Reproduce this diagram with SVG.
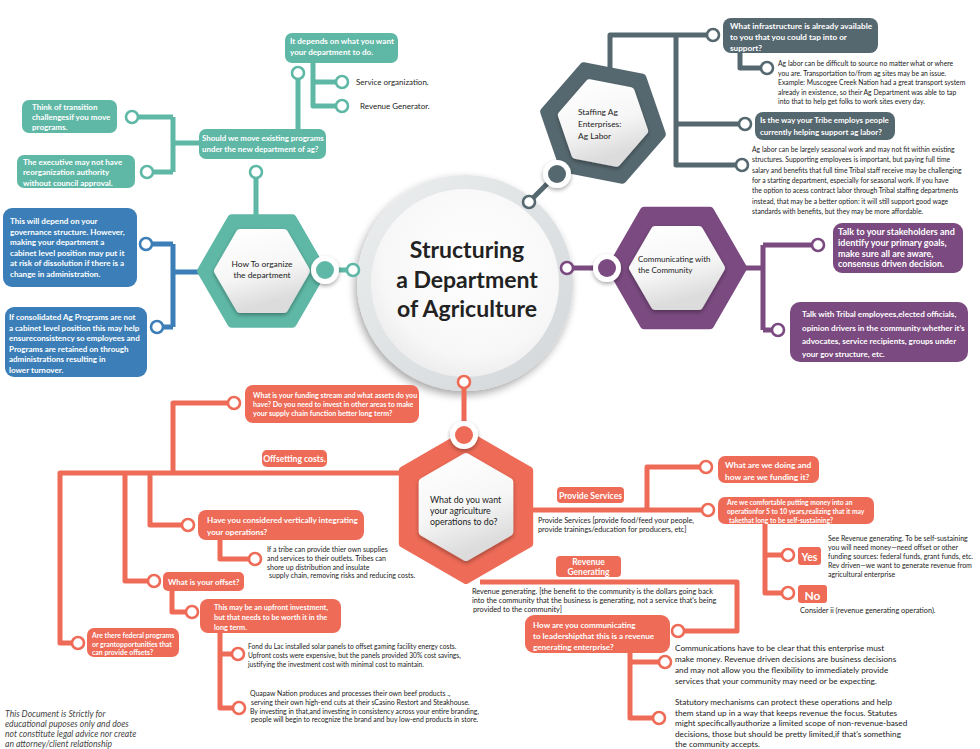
<svg xmlns="http://www.w3.org/2000/svg" width="980" height="749" viewBox="0 0 980 749">
<defs>
<style>
text{font-family:Lato,"Liberation Sans",sans-serif}
.w{fill:#fff;font-weight:700}
.d{fill:#222}
.ln{fill:none;stroke-width:5;stroke-linejoin:round;stroke-linecap:butt}
.teal{stroke:#5fb8a6}.blue{stroke:#3c7fb8}.grey{stroke:#56686f}.purp{stroke:#7a4a80}.oran{stroke:#ee6b57}
.oc{fill:#fff;stroke-width:2.6}
.fteal{fill:#5fb8a6}.fblue{fill:#3c7fb8}.fgrey{fill:#56686f}.fpurp{fill:#7a4a80}.foran{fill:#ee6b57}
.hexo{stroke-width:8;stroke-linejoin:round}
.hexi{fill:url(#hexg);stroke:url(#hexg);stroke-width:8;stroke-linejoin:round}
</style>
<linearGradient id="hexg" x1="0" y1="0" x2="0.3" y2="1">
<stop offset="0" stop-color="#ffffff"/><stop offset="0.6" stop-color="#f6f6f6"/><stop offset="1" stop-color="#dcdcdc"/>
</linearGradient>
<radialGradient id="face" cx="0.55" cy="0.4" r="0.7">
<stop offset="0" stop-color="#ffffff"/><stop offset="0.7" stop-color="#f7f7f7"/><stop offset="1" stop-color="#e6e6e6"/>
</radialGradient>
<linearGradient id="ring" x1="0" y1="0" x2="1" y2="1">
<stop offset="0" stop-color="#eceeef"/><stop offset="1" stop-color="#d3d7d9"/>
</linearGradient>
<filter id="sh" x="-30%" y="-30%" width="160%" height="160%">
<feGaussianBlur in="SourceAlpha" stdDeviation="4"/><feOffset dx="-2" dy="4"/>
<feComponentTransfer><feFuncA type="linear" slope="0.35"/></feComponentTransfer>
<feMerge><feMergeNode/><feMergeNode in="SourceGraphic"/></feMerge>
</filter>
<filter id="sh2" x="-50%" y="-50%" width="200%" height="200%">
<feGaussianBlur in="SourceAlpha" stdDeviation="2"/><feOffset dx="0" dy="2"/>
<feComponentTransfer><feFuncA type="linear" slope="0.35"/></feComponentTransfer>
<feMerge><feMergeNode/><feMergeNode in="SourceGraphic"/></feMerge>
</filter>
</defs>
<rect width="980" height="749" fill="#fff"/>

<!-- central title -->
<g id="title">
<circle cx="465" cy="283" r="108" fill="url(#ring)" filter="url(#sh)"/>
<circle cx="465" cy="283" r="94" fill="url(#face)"/>
<text x="467" y="258" text-anchor="middle" font-size="23" font-weight="700" class="d">Structuring</text>
<text x="467" y="288" text-anchor="middle" font-size="23" font-weight="700" class="d">a Department</text>
<text x="467" y="317" text-anchor="middle" font-size="23" font-weight="700" class="d">of Agriculture</text>
</g>

<!-- connectors -->
<g id="connectors">
<path class="ln teal" d="M325,270 H353 M256,218 V172 M298,129 V73 M313,63 V106 H342 M313,82 H342 M199,143 H173 M173,117 V172 M173,117 H132 M173,172 H147"/>
<path class="ln blue" d="M199,272 H173 M173,244 V327 M173,244 H146 M173,327 H157"/>
<path class="ln grey" d="M557,174 L529,202 M610,72 V35 H713 M676,35 V165 H742 M676,124 H745 M740,53 V68 H767"/>
<path class="ln purp" d="M607,268 H567 M745,268 H763 M763,245 V330 M763,245 H818 M763,330 H778"/>
<path class="ln oran" d="M464,382 V435 M405,473 H60 V643 H78 M173,473 V403 H234 M150,473 V525 H188 M125,473 V581 H154 M220,540 V559 H255 M172,591 V612 H192 M220,633 V708 H239 M220,654 H238 M525,510 H708 M647,510 V467 H706 M765,524 V593 H788 M765,555 H788 M480,582 H737 V631 H678 M630,653 V718 H659 M630,662 H665"/>
<g class="oc">
<circle cx="353" cy="270" r="6" class="teal"/><circle cx="256" cy="172" r="6" class="teal"/><circle cx="298" cy="73" r="6" class="teal"/><circle cx="342" cy="82" r="6" class="teal"/><circle cx="342" cy="106" r="6" class="teal"/><circle cx="132" cy="117" r="6" class="teal"/><circle cx="147" cy="172" r="6" class="teal"/>
<circle cx="146" cy="244" r="6" class="blue"/><circle cx="157" cy="327" r="6" class="blue"/>
<circle cx="529" cy="202" r="6" class="grey"/><circle cx="713" cy="35" r="6" class="grey"/><circle cx="745" cy="124" r="6" class="grey"/><circle cx="742" cy="165" r="6" class="grey"/><circle cx="767" cy="68" r="6" class="grey"/>
<circle cx="567" cy="268" r="6" class="purp"/><circle cx="818" cy="245" r="6" class="purp"/><circle cx="778" cy="330" r="6" class="purp"/>
<circle cx="464" cy="382" r="6" class="oran"/><circle cx="234" cy="403" r="6" class="oran"/><circle cx="188" cy="525" r="6" class="oran"/><circle cx="154" cy="581" r="6" class="oran"/><circle cx="78" cy="643" r="6" class="oran"/><circle cx="255" cy="559" r="6" class="oran"/><circle cx="192" cy="612" r="6" class="oran"/><circle cx="238" cy="654" r="6" class="oran"/><circle cx="239" cy="708" r="6" class="oran"/><circle cx="708" cy="510" r="6" class="oran"/><circle cx="706" cy="467" r="6" class="oran"/><circle cx="788" cy="555" r="6" class="oran"/><circle cx="788" cy="593" r="6" class="oran"/><circle cx="678" cy="631" r="6" class="oran"/><circle cx="665" cy="662" r="6" class="oran"/><circle cx="659" cy="718" r="6" class="oran"/>
</g>
</g>

<!-- TEAL: How To organize -->
<g id="hex-organize">
<polygon class="hexo fteal teal" points="323,271 292.5,218.2 231.5,218.2 201,271 231.5,323.8 292.5,323.8"/>
<polygon class="hexi" points="306,271 284,232.9 240,232.9 218,271 240,309.1 284,309.1" filter="url(#sh2)"/>
<circle cx="325" cy="270" r="14" fill="#fff" filter="url(#sh2)"/><circle cx="325" cy="270" r="9" class="fteal"/>
<text x="262" y="267" text-anchor="middle" font-size="8.4" class="d">How To organize</text>
<text x="262" y="278" text-anchor="middle" font-size="8.4" class="d">the department</text>
</g>
<g id="box-should">
<rect x="199" y="129" width="127" height="30" rx="7" class="fteal"/>
<text x="202" y="141" font-size="7.9" class="w">Should we move existing programs</text>
<text x="202" y="152" font-size="7.9" class="w">under the new department of ag?</text>
</g>
<g id="box-depends">
<rect x="285" y="33" width="113" height="30" rx="7" class="fteal"/>
<text x="290" y="44" font-size="8.1" class="w">It depends on what you want</text>
<text x="290" y="55" font-size="8.1" class="w">your department to do.</text>
</g>
<g id="txt-service"><text x="356" y="85" font-size="8" class="d">Service organization.</text></g>
<g id="txt-revgen"><text x="360" y="109" font-size="8" class="d">Revenue Generator.</text></g>
<g id="box-transition">
<rect x="22" y="100" width="95" height="33" rx="7" class="fteal"/>
<text font-size="8" class="w"><tspan x="32" y="110">Think of transition</tspan><tspan x="32" y="120">challengesif you move</tspan><tspan x="32" y="130">programs.</tspan></text>
</g>
<g id="box-executive">
<rect x="17" y="155" width="118" height="33" rx="7" class="fteal"/>
<text font-size="8" class="w"><tspan x="23" y="165">The executive may not have</tspan><tspan x="23" y="175">reorganization authority</tspan><tspan x="23" y="186">without council approval.</tspan></text>
</g>
<g id="box-governance">
<rect x="3" y="208" width="134" height="79" rx="9" class="fblue"/>
<text font-size="8.1" class="w"><tspan x="10" y="224">This will depend on your</tspan><tspan x="10" y="234.5">governance structure. However,</tspan><tspan x="10" y="245">making your department a</tspan><tspan x="10" y="255.5">cabinet level position may put it</tspan><tspan x="10" y="266">at risk of dissolution if there is a</tspan><tspan x="10" y="276.5">change in administration.</tspan></text>
</g>
<g id="box-consolidated">
<rect x="5" y="307" width="142" height="70" rx="9" class="fblue"/>
<text font-size="8" class="w"><tspan x="9" y="320">If consolidated Ag Programs are not</tspan><tspan x="9" y="330.5">a cabinet level position this may help</tspan><tspan x="9" y="341">ensureconsistency so employees and</tspan><tspan x="9" y="351.5">Programs are retained on through</tspan><tspan x="9" y="362">administrations resulting in</tspan><tspan x="9" y="372.5">lower turnover.</tspan></text>
</g>

<!-- GREY: Staffing -->
<g id="hex-staffing">
<polygon class="hexo fgrey grey" points="661.9,134.4 622.5,179.7 563.6,168.3 544.1,111.6 583.5,66.3 642.4,77.7"/>
<polygon class="hexi" points="644.2,131 616.7,162.7 575.4,154.7 561.8,115 589.3,83.3 630.6,91.3" filter="url(#sh2)"/>
<circle cx="557" cy="174" r="14" fill="#fff" filter="url(#sh2)"/><circle cx="557" cy="174" r="9" class="fgrey"/>
<text font-size="8.4" class="d"><tspan x="578" y="115">Staffing Ag</tspan><tspan x="578" y="127">Enterprises:</tspan><tspan x="578" y="139">Ag Labor</tspan></text>
</g>
<g id="box-infra">
<rect x="723" y="18" width="155" height="35" rx="8" class="fgrey"/>
<text font-size="8.2" class="w"><tspan x="730" y="29">What infrastructure is already available</tspan><tspan x="730" y="40">to you that you could tap into or</tspan><tspan x="730" y="51">support?</tspan></text>
</g>
<g id="txt-aglabor1">
<text font-size="6.8" class="d"><tspan x="778" y="66">Ag labor can be difficult to source no matter what or where</tspan><tspan x="778" y="75.5">you are. Transportation to/from ag sites may be an issue.</tspan><tspan x="778" y="85">Example: Muscogee Creek Nation had a great transport system</tspan><tspan x="778" y="94.5">already in existence, so their Ag Department was able to tap</tspan><tspan x="778" y="104">into that to help get folks to work sites every day.</tspan></text>
</g>
<g id="box-tribe">
<rect x="755" y="112" width="140" height="28" rx="8" class="fgrey"/>
<text font-size="7.9" class="w"><tspan x="760" y="123">Is the way your Tribe employs people</tspan><tspan x="760" y="135">currently helping support ag labor?</tspan></text>
</g>
<g id="txt-aglabor2">
<text font-size="6.8" class="d"><tspan x="752" y="152">Ag labor can be largely seasonal work and may not fit within existing</tspan><tspan x="752" y="162.3">structures. Supporting employees is important, but paying full time</tspan><tspan x="752" y="172.6">salary and benefits that full time Tribal staff receive may be challenging</tspan><tspan x="752" y="182.9">for a starting department, especially for seasonal work. If you have</tspan><tspan x="752" y="193.2">the option to acess contract labor through Tribal staffing departments</tspan><tspan x="752" y="203.5">instead, that may be a better option: it will still support good wage</tspan><tspan x="752" y="213.8">standards with benefits, but they may be more affordable.</tspan></text>
</g>

<!-- PURPLE: Communicating -->
<g id="hex-community">
<polygon class="hexo fpurp purp" points="743,268 710,210.8 644,210.8 611,268 644,325.2 710,325.2"/>
<polygon class="hexi" points="721,268 699,229.9 655,229.9 633,268 655,306.1 699,306.1" filter="url(#sh2)"/>
<circle cx="607" cy="268" r="14" fill="#fff" filter="url(#sh2)"/><circle cx="607" cy="268" r="9" class="fpurp"/>
<text font-size="8" class="d"><tspan x="638" y="262">Communicating with</tspan><tspan x="638" y="273">the Community</tspan></text>
</g>
<g id="box-stakeholders">
<rect x="833" y="223" width="130" height="50" rx="9" class="fpurp"/>
<text font-size="9" class="w"><tspan x="838" y="235">Talk to your stakeholders and</tspan><tspan x="838" y="246">identify your primary goals,</tspan><tspan x="838" y="256.5">make sure all are aware,</tspan><tspan x="838" y="267">consensus driven decision.</tspan></text>
</g>
<g id="box-employees">
<rect x="790" y="302" width="178" height="60" rx="10" class="fpurp"/>
<text font-size="8.1" class="w"><tspan x="802" y="317">Talk with Tribal employees,elected officials,</tspan><tspan x="802" y="330.5">opinion drivers in the community whether it’s</tspan><tspan x="802" y="344">advocates, service recipients, groups under</tspan><tspan x="802" y="357">your gov structure, etc.</tspan></text>
</g>

<!-- ORANGE: operations -->
<g id="hex-operations">
<polygon class="hexo foran oran" points="466,434 529.2,470.5 529.2,543.5 466,580 402.8,543.5 402.8,470.5"/>
<polygon class="hexi" points="466,457 509.3,482 509.3,532 466,557 422.7,532 422.7,482" filter="url(#sh2)"/>
<circle cx="464" cy="435" r="14" fill="#fff" filter="url(#sh2)"/><circle cx="464" cy="435" r="9" class="foran"/>
<text font-size="8.8" class="d"><tspan x="430" y="503">What do you want</tspan><tspan x="430" y="514">your agriculture</tspan><tspan x="430" y="525">operations to do?</tspan></text>
</g>
<g id="box-funding">
<rect x="245" y="385" width="174" height="38" rx="8" class="foran"/>
<text font-size="7.1" class="w"><tspan x="253" y="398">What is your funding stream and what assets do you</tspan><tspan x="253" y="407">have? Do you need to invest in other areas to make</tspan><tspan x="253" y="416">your supply chain function better long term?</tspan></text>
</g>
<g id="box-offsetting">
<rect x="262" y="450" width="65" height="17" rx="5" class="foran"/>
<text x="294.5" y="462" text-anchor="middle" font-size="8.6" class="w">Offsetting costs.</text>
</g>
<g id="box-vertical">
<rect x="198" y="510" width="166" height="30" rx="8" class="foran"/>
<text font-size="8.1" class="w"><tspan x="207" y="523">Have you considered vertically integrating</tspan><tspan x="207" y="535">your operations?</tspan></text>
</g>
<g id="txt-tribe-supplies">
<text font-size="7" class="d"><tspan x="267" y="552">If a tribe can provide thier own supplies</tspan><tspan x="267" y="561">and services to their outlets. Tribes can</tspan><tspan x="267" y="569.5">shore up  distribution and  insulate</tspan><tspan x="269" y="578">supply chain, removing risks and reducing costs.</tspan></text>
</g>
<g id="box-offset">
<rect x="163" y="572" width="81" height="19" rx="5" class="foran"/>
<text x="168" y="585" font-size="8" class="w">What is your offset?</text>
</g>
<g id="box-upfront">
<rect x="200" y="599" width="141" height="34" rx="8" class="foran"/>
<text font-size="7.3" class="w"><tspan x="214" y="610">This may be an upfront investment,</tspan><tspan x="214" y="619.5">but that needs to be worth it in the</tspan><tspan x="214" y="630">long term.</tspan></text>
</g>
<g id="txt-fond">
<text font-size="6.7" class="d"><tspan x="248" y="649">Fond du Lac installed solar panels to offset gaming facility energy costs.</tspan><tspan x="248" y="658">Upfront costs were expensive, but the panels provided  30% cost savings,</tspan><tspan x="248" y="666.5">justifying the investment cost with minimal cost to maintain.</tspan></text>
</g>
<g id="txt-quapaw">
<text font-size="6.9" class="d"><tspan x="250" y="696">Quapaw Nation produces and processes their own beef products .,</tspan><tspan x="251" y="705">serving their own high-end cuts at their sCasino Restort and Steakhouse.</tspan><tspan x="250" y="713.5">By investing in that,and investing in consistency across your entire branding,</tspan><tspan x="251" y="722">people will  begin to recognize the brand and buy low-end products in store.</tspan></text>
</g>
<g id="box-federal">
<rect x="87" y="628" width="92" height="29" rx="7" class="foran"/>
<text font-size="6.9" class="w"><tspan x="92" y="638">Are there federal programs</tspan><tspan x="92" y="646.5">or grantopportunities that</tspan><tspan x="92" y="655">can provide offsets?</tspan></text>
</g>
<g id="box-provide">
<rect x="557" y="487" width="67" height="16" rx="4" class="foran"/>
<text x="590.5" y="498.5" text-anchor="middle" font-size="8.6" class="w">Provide Services</text>
</g>
<g id="txt-provide">
<text font-size="7.3" class="d"><tspan x="538" y="523">Provide Services [provide food/feed your people,</tspan><tspan x="538" y="532">provide trainings/education for producers, etc]</tspan></text>
</g>
<g id="box-doing">
<rect x="718" y="456" width="101" height="27" rx="7" class="foran"/>
<text font-size="8.4" class="w"><tspan x="725" y="468">What are we doing and</tspan><tspan x="725" y="479.5">how are we funding it?</tspan></text>
</g>
<g id="box-comfortable">
<rect x="718" y="497" width="156" height="27" rx="7" class="foran"/>
<text font-size="6.7" class="w"><tspan x="727" y="505">Are we comfortable putting money into an</tspan><tspan x="727" y="514">operationfor 5 to 10 years,realizing that it may</tspan><tspan x="729" y="522.5">takethat long to be self-sustaining?</tspan></text>
</g>
<g id="box-yes">
<rect x="798" y="547" width="23" height="18" rx="3" class="foran"/>
<text x="809.5" y="560.5" text-anchor="middle" font-size="10.5" class="w">Yes</text>
</g>
<g id="txt-yes">
<text font-size="7" class="d"><tspan x="828" y="541">See Revenue generating. To be self-sustaining</tspan><tspan x="828" y="550">you will need money—need offset or other</tspan><tspan x="828" y="559">funding sources: federal funds, grant funds, etc.</tspan><tspan x="828" y="568">Rev driven—we want to generate revenue from</tspan><tspan x="828" y="577">agricultural enterprise</tspan></text>
</g>
<g id="box-no">
<rect x="798" y="585" width="29" height="18" rx="3" class="foran"/>
<text x="812.5" y="599.5" text-anchor="middle" font-size="12" class="w">No</text>
</g>
<g id="txt-no"><text x="800" y="613" font-size="7.3" class="d">Consider ii (revenue generating operation).</text></g>
<g id="box-revenue">
<rect x="556" y="556" width="65" height="21" rx="4" class="foran"/>
<text text-anchor="middle" font-size="8.5" class="w"><tspan x="588.5" y="565">Revenue</tspan><tspan x="588.5" y="575">Generating</tspan></text>
</g>
<g id="txt-revenue">
<text font-size="7.3" class="d"><tspan x="472" y="594">Revenue generating. [the benefit to the community is the dollars going back</tspan><tspan x="472" y="603">into the community that the business is generating, not a service that's being</tspan><tspan x="473" y="612">provided to the community]</tspan></text>
</g>
<g id="box-leadership">
<rect x="525" y="615" width="145" height="38" rx="9" class="foran"/>
<text font-size="8.1" class="w"><tspan x="533" y="628">How are you communicating</tspan><tspan x="533" y="639">to leadershipthat this is a revenue</tspan><tspan x="533" y="649.5">generating enterprise?</tspan></text>
</g>
<g id="txt-communications">
<text font-size="8.2" class="d"><tspan x="675" y="651">Communications have to be clear that this enterprise must</tspan><tspan x="675" y="662">make money. Revenue driven decisions are business decisions</tspan><tspan x="675" y="673">and may not allow you the flexibility to immediately provide</tspan><tspan x="675" y="684">services that your community may need or be expecting.</tspan></text>
</g>
<g id="txt-statutory">
<text font-size="8.2" class="d"><tspan x="675" y="705">Statutory mechanisms can protect these operations and help</tspan><tspan x="675" y="716">them stand up in a way that keeps revenue the focus. Statutes</tspan><tspan x="675" y="726">might specificallyauthorize a limited scope of non-revenue-based</tspan><tspan x="675" y="737">decisions, those but should be pretty limited,if that's something</tspan><tspan x="675" y="747">the community accepts.</tspan></text>
</g>
<g id="disclaimer">
<text font-size="8.6" font-style="italic" fill="#444"><tspan x="5" y="717">This Document is Strictly for</tspan><tspan x="5" y="727">educational puposes only and does</tspan><tspan x="5" y="737">not constitute legal advice nor create</tspan><tspan x="5" y="747">an attorney/client relationship</tspan></text>
</g>
</svg>
